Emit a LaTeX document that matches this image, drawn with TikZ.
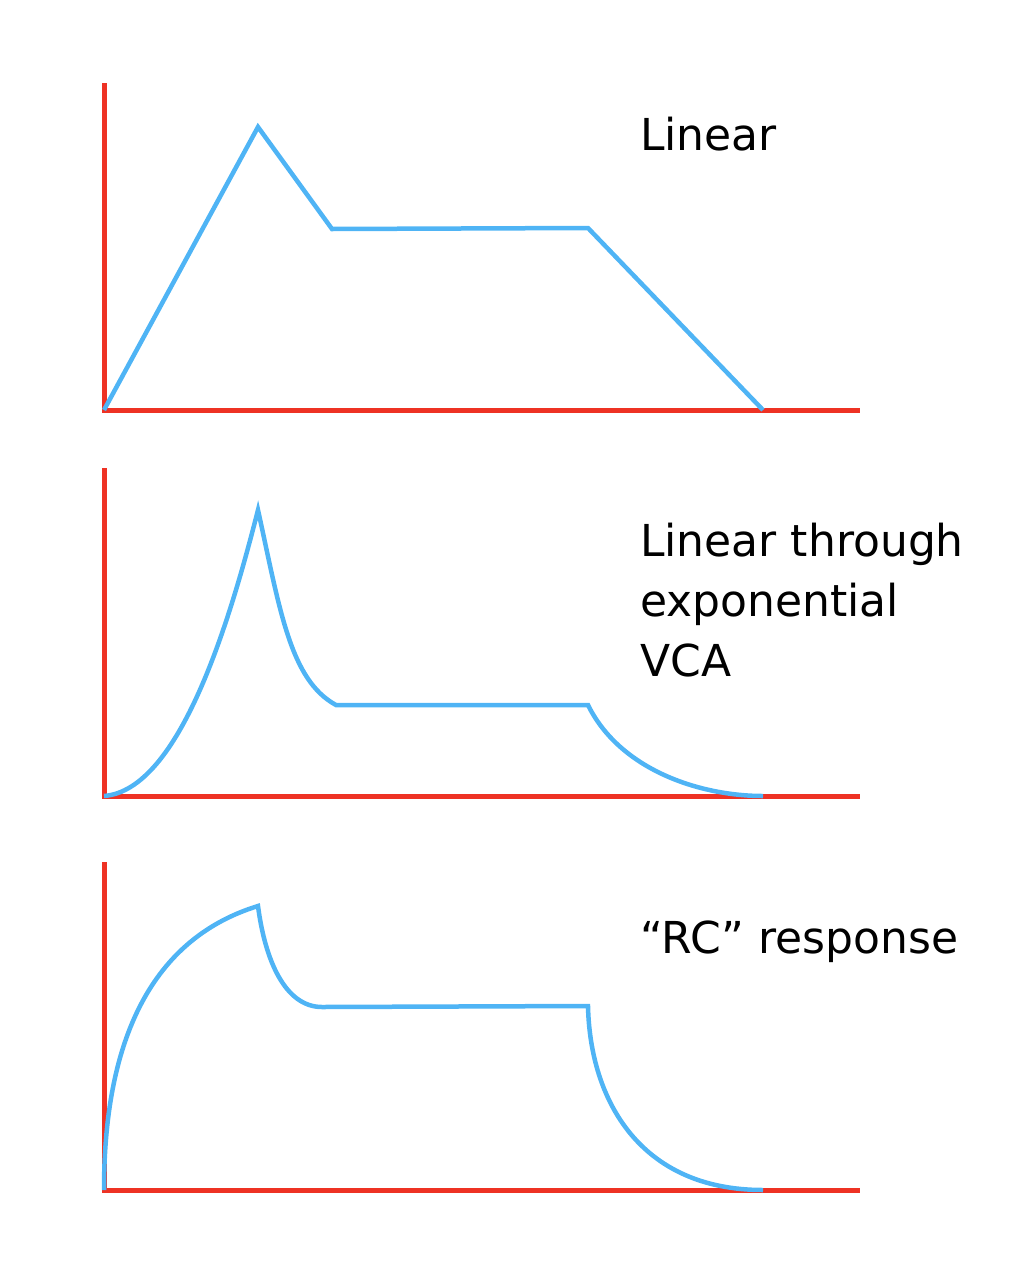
\documentclass[tikz,border=0pt]{standalone}
\usepackage{fontspec}
\setmainfont{DejaVu Sans}
\begin{document}
\begin{tikzpicture}[x=1pt,y=-1pt,
  axis/.style={draw={rgb,255:red,238;green,50;blue,36},line width=5pt},
  env/.style={draw={rgb,255:red,79;green,180;blue,245},line width=4.5pt,line join=miter},
  lab/.style={anchor=base west,font=\fontsize{44}{60}\selectfont,inner sep=0pt}]
\useasboundingbox (0,0) rectangle (1020,1280);
% panel 1
\draw[axis] (104,83) -- (104,410) -- (860,410);
\draw[env] (104,410) -- (258,127) -- (332,229) -- (588,228) -- (763,410);
\node[lab] (l1) at (640,150) {Linear};
% panel 2
\draw[axis] (104,468) -- (104,796) -- (860,796);
\draw[env] (104,796) .. controls (180,790) and (230,620) .. (258,510)
  .. controls (280,610) and (290,680) .. (336,705) -- (588,705)
  .. controls (620,770) and (700,796) .. (763,796);
\node[lab] (l2a) at (640,556) {Linear through};
\node[lab] (l2b) at (640,616) {exponential};
\node[lab] (l2c) at (640,676) {VCA};
% panel 3
\draw[axis] (104,862) -- (104,1190) -- (860,1190);
\draw[env] (104,1190) .. controls (104,1000) and (180,930) .. (258,906)
  .. controls (265,960) and (285,1007) .. (322,1007) -- (588,1006)
  .. controls (590,1100) and (640,1190) .. (763,1190);
\node[lab] (l3) at (640,953) {“RC” response};
\end{tikzpicture}
\end{document}
